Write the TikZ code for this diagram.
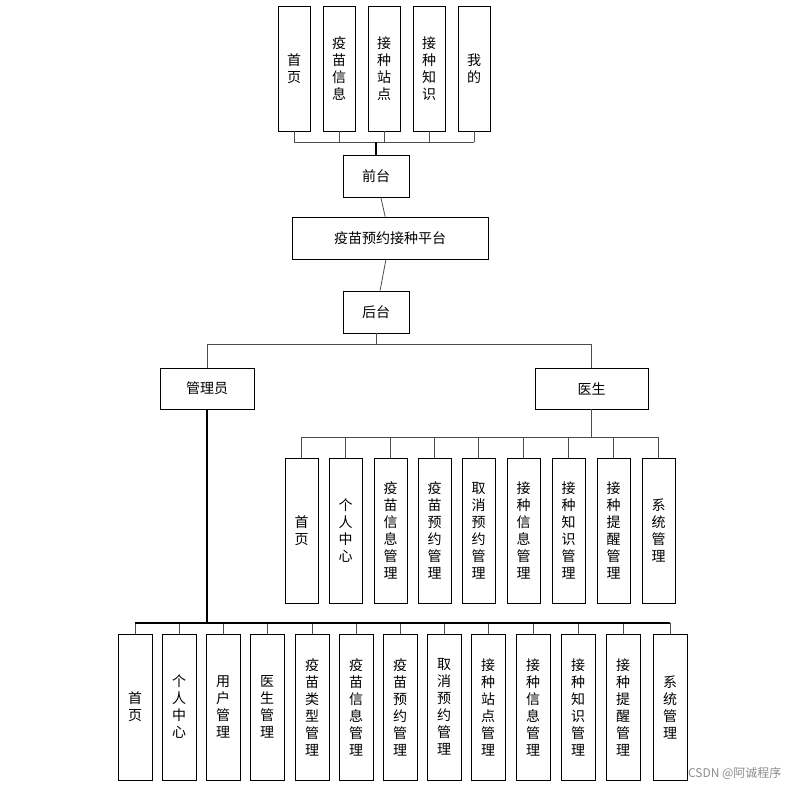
\documentclass[tikz,border=0pt]{standalone}
\usepackage{fontspec}
\setmainfont{Noto Sans CJK SC}
\begin{document}
\begin{tikzpicture}[x=1pt,y=-1pt,
 bx/.style={draw=black,line width=0.8pt,fill=white,inner sep=0pt,font=\fontsize{14}{17}\selectfont,align=center},
 ln/.style={draw=black!70,line width=0.8pt}]
\useasboundingbox (0,0) rectangle (797,792);
% top nodes
\foreach \n/\x/\t in {t1/294/首\\页, t2/339/疫\\苗\\信\\息, t3/384/接\\种\\站\\点, t4/429/接\\种\\知\\识, t5/474/我\\的}
  \node[bx,minimum width=32,minimum height=125] (\n) at (\x,68.5) {\t};
\node[bx,minimum width=66,minimum height=42] (front) at (376,176) {前台};
\node[bx,minimum width=196,minimum height=42] (plat) at (390,238) {疫苗预约接种平台};
\node[bx,minimum width=66,minimum height=42] (back) at (376,312) {后台};
\node[bx,minimum width=94,minimum height=41] (adm) at (207,388.5) {管理员};
\node[bx,minimum width=113,minimum height=41] (doc) at (591.5,388.5) {医生};
\foreach \n in {t1,t2,t3,t4,t5} \draw[ln] (\n.south) -- (\n.south |- 0,142);
\draw[ln] (t1.south |- 0,142) -- (t5.south |- 0,142);
\draw[line width=1.5pt] (front.north) -- (front.north |- 0,142);
\draw[ln] (front) -- (plat);
\draw[ln] (plat) -- (back);
\coordinate (bb) at (376,344);
\draw[ln] (back) -- (bb);
\draw[ln] (adm.north) -- (207,344) -- (591.5,344) -- (doc.north);
% doctor children
\coordinate (db) at (591.5,437);
\draw[ln] (doc.south) -- (db);
\foreach \i/\x/\t in {1/301.5/首\\页, 2/345.5/个\\人\\中\\心, 3/390.5/疫\\苗\\信\\息\\管\\理, 4/434.5/疫\\苗\\预\\约\\管\\理, 5/478.5/取\\消\\预\\约\\管\\理, 6/523.5/接\\种\\信\\息\\管\\理, 7/568.5/接\\种\\知\\识\\管\\理, 8/613.5/接\\种\\提\\醒\\管\\理, 9/658.5/系\\统\\管\\理}{
  \node[bx,minimum width=33,minimum height=145] (d\i) at (\x,530.5) {\t};
  \draw[ln] (d\i.north) -- (\x,437);}
\draw[ln] (d1.north |- 0,437) -- (d9.north |- 0,437);
% admin children
\coordinate (ab) at (207,623);
\draw[line width=1.5pt] (adm.south) -- (ab);
\foreach \i/\x/\t in {1/135/首\\页, 2/179/个\\人\\中\\心, 3/223/用\\户\\管\\理, 4/267/医\\生\\管\\理, 5/312/疫\\苗\\类\\型\\管\\理, 6/356/疫\\苗\\信\\息\\管\\理, 7/400/疫\\苗\\预\\约\\管\\理, 8/444/取\\消\\预\\约\\管\\理, 9/488/接\\种\\站\\点\\管\\理, 10/533/接\\种\\信\\息\\管\\理, 11/578/接\\种\\知\\识\\管\\理, 12/623/接\\种\\提\\醒\\管\\理, 13/670/系\\统\\管\\理}{
  \node[bx,minimum width=34,minimum height=146] (a\i) at (\x,707) {\t};
  \draw[ln] (a\i.north) -- (\x,623);}
\draw[line width=1.5pt] (a1.north |- 0,623) -- (a13.north |- 0,623);
\node[text=black!45,font=\fontsize{12}{14}\selectfont,anchor=east] (wm) at (785,773) {CSDN @阿诚程序};
\end{tikzpicture}
\end{document}
